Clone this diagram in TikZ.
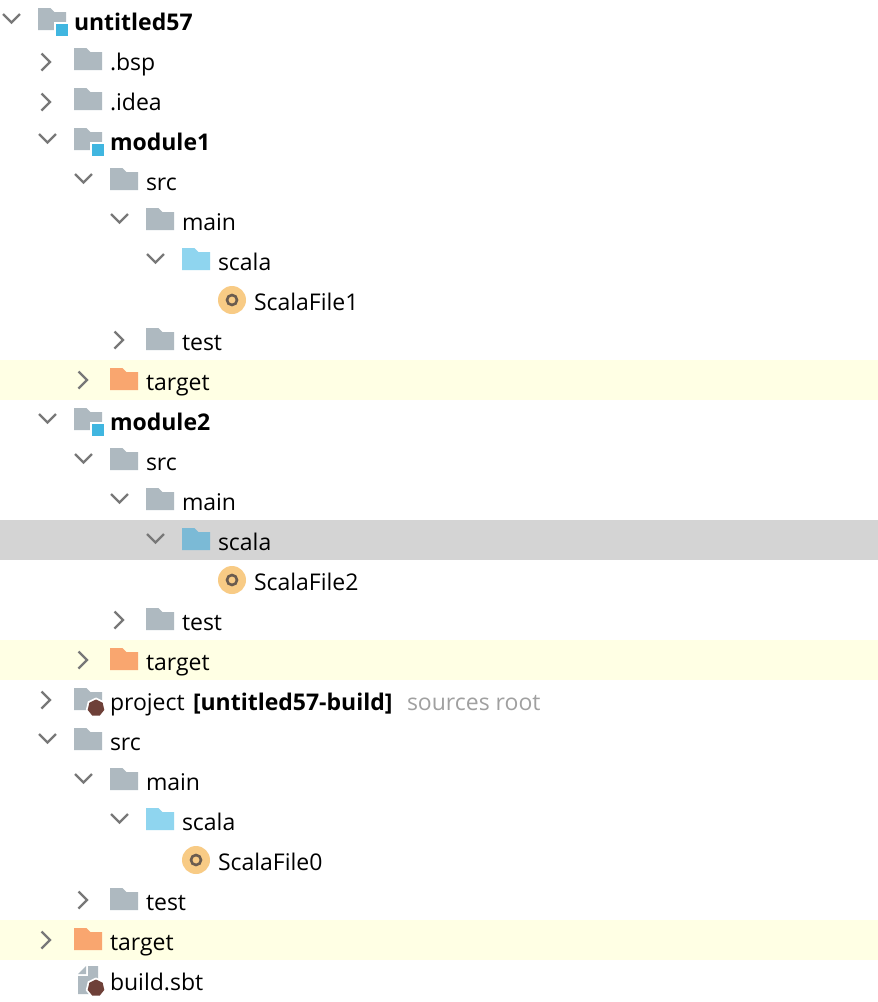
\documentclass[tikz,border=0pt]{standalone}
\usepackage{fontspec}
\setmainfont{Open Sans}
\usetikzlibrary{shapes.geometric}
\definecolor{fgrey}{HTML}{AEB9C0}
\definecolor{fblue}{HTML}{8FD5EF}
\definecolor{fblues}{HTML}{7BBAD6}
\definecolor{forange}{HTML}{F9A66F}
\definecolor{hl}{HTML}{FFFFE4}
\definecolor{sel}{HTML}{D4D4D4}
\definecolor{badge}{HTML}{40B6E0}
\definecolor{sbt}{HTML}{6E4038}
\definecolor{circ}{HTML}{F8CB85}
\definecolor{ring}{HTML}{6B5C4F}
\definecolor{chev}{HTML}{787878}
\definecolor{hint}{HTML}{A0A0A0}
\tikzset{
  label/.style={anchor=base west,inner sep=0pt,outer sep=0pt,yshift=-1pt,font=\fontsize{23}{26}\selectfont,text=black},
  blabel/.style={label,font=\fontsize{23}{26}\selectfont\bfseries},
  chevline/.style={draw=chev,line width=2.2pt,line cap=butt,line join=miter},
}
% #1 = folder left x, #2 = row centre y, #3 = colour
\newcommand{\folder}[3]{\fill[#3] (#1,#2-14) -- ++(12.5,0) -- ++(4,4) -- ++(11.5,0) -- ++(0,18) -- ++(-28,0) -- cycle;}
\newcommand{\chevdown}[2]{\draw[chevline] (#1-8,#2-4) -- (#1+0.5,#2+4.5) -- (#1+9,#2-4);}
\newcommand{\chevright}[2]{\draw[chevline] (#1-3.5,#2-8.5) -- (#1+5,#2) -- (#1-3.5,#2+8.5);}
\newcommand{\modbadge}[2]{\fill[white] (#1+16,#2) rectangle (#1+31,#2+15);\fill[badge] (#1+18,#2+2) rectangle (#1+30,#2+14);}
\newcommand{\hexbadge}[3]{\node[regular polygon,regular polygon sides=7,minimum size=21pt,inner sep=0pt,fill=white] at (#1,#2) {};\node[regular polygon,regular polygon sides=7,minimum size=17pt,inner sep=0pt,fill=sbt] (#3) at (#1,#2) {};}
\newcommand{\fileicon}[2]{\fill[circ] (#1,#2) circle (14);\draw[ring,line width=2.6pt] (#1,#2) circle (5);}
\begin{document}
\begin{tikzpicture}[x=1pt,y=-1pt]
\useasboundingbox (0,0) rectangle (878,1002);
\fill[white] (0,0) rectangle (878,1002);
\fill[hl] (0,360) rectangle (878,400);
\fill[hl] (0,640) rectangle (878,680);
\fill[hl] (0,920) rectangle (878,960);
\fill[sel] (0,520) rectangle (878,560);
% row 0
\chevdown{11}{18}
\folder{38}{22}{fgrey}\modbadge{38}{22}
\node[blabel] (root) at (74,29.5) {untitled57};
% .bsp .idea
\chevright{45}{62}\folder{74}{62}{fgrey}\node[label] (bsp) at (110,69.5) {.bsp};
\chevright{45}{102}\folder{74}{102}{fgrey}\node[label] (idea) at (110,109.5) {.idea};
% module1
\chevdown{47}{138}\folder{74}{142}{fgrey}\modbadge{74}{142}
\node[blabel] (m1) at (110,149.5) {module1};
\chevdown{83}{178}\folder{110}{182}{fgrey}\node[label] (m1src) at (146,189.5) {src};
\chevdown{119}{218}\folder{146}{222}{fgrey}\node[label] (m1main) at (182,229.5) {main};
\chevdown{155}{258}\folder{182}{262}{fblue}\node[label] (m1scala) at (218,269.5) {scala};
\fileicon{232}{300}\node[label] (f1) at (254,309.5) {ScalaFile1};
\chevright{118}{340}\folder{146}{342}{fgrey}\node[label] (m1test) at (182,349.5) {test};
\chevright{82}{380}\folder{110}{382}{forange}\node[label] (m1target) at (146,389.5) {target};
% module2
\chevdown{47}{418}\folder{74}{422}{fgrey}\modbadge{74}{422}
\node[blabel] (m2) at (110,429.5) {module2};
\chevdown{83}{458}\folder{110}{462}{fgrey}\node[label] (m2src) at (146,469.5) {src};
\chevdown{119}{498}\folder{146}{502}{fgrey}\node[label] (m2main) at (182,509.5) {main};
\chevdown{155}{538}\folder{182}{542}{fblues}\node[label] (m2scala) at (218,549.5) {scala};
\fileicon{232}{580}\node[label] (f2) at (254,589.5) {ScalaFile2};
\chevright{118}{620}\folder{146}{622}{fgrey}\node[label] (m2test) at (182,629.5) {test};
\chevright{82}{660}\folder{110}{662}{forange}\node[label] (m2target) at (146,669.5) {target};
% project
\chevright{45}{700}\folder{74}{702}{fgrey}\hexbadge{96}{708}{phex}
\node[label] (proj) at (110,709.5) {project};
\node[blabel] (projb) at (193,709.5) {[untitled57-build]};
\node[label,text=hint] (hint) at (407,709.5) {sources root};
% src
\chevdown{47}{738}\folder{74}{742}{fgrey}\node[label] (src) at (110,749.5) {src};
\chevdown{83}{778}\folder{110}{782}{fgrey}\node[label] (main) at (146,789.5) {main};
\chevdown{119}{818}\folder{146}{822}{fblue}\node[label] (scala) at (182,829.5) {scala};
\fileicon{196}{860}\node[label] (f0) at (218,869.5) {ScalaFile0};
\chevright{82}{900}\folder{110}{902}{fgrey}\node[label] (test) at (146,909.5) {test};
\chevright{45}{940}\folder{74}{942}{forange}\node[label] (target) at (110,949.5) {target};
% build.sbt
\fill[fgrey] (78,974) -- (86,966) -- (86,974) -- cycle;
\fill[fgrey] (88,966) -- (98,966) -- (98,994) -- (78,994) -- (78,976) -- (88,976) -- cycle;
\hexbadge{96}{988}{bhex}
\node[label] (sbtf) at (110,989.5) {build.sbt};
\end{tikzpicture}
\end{document}
